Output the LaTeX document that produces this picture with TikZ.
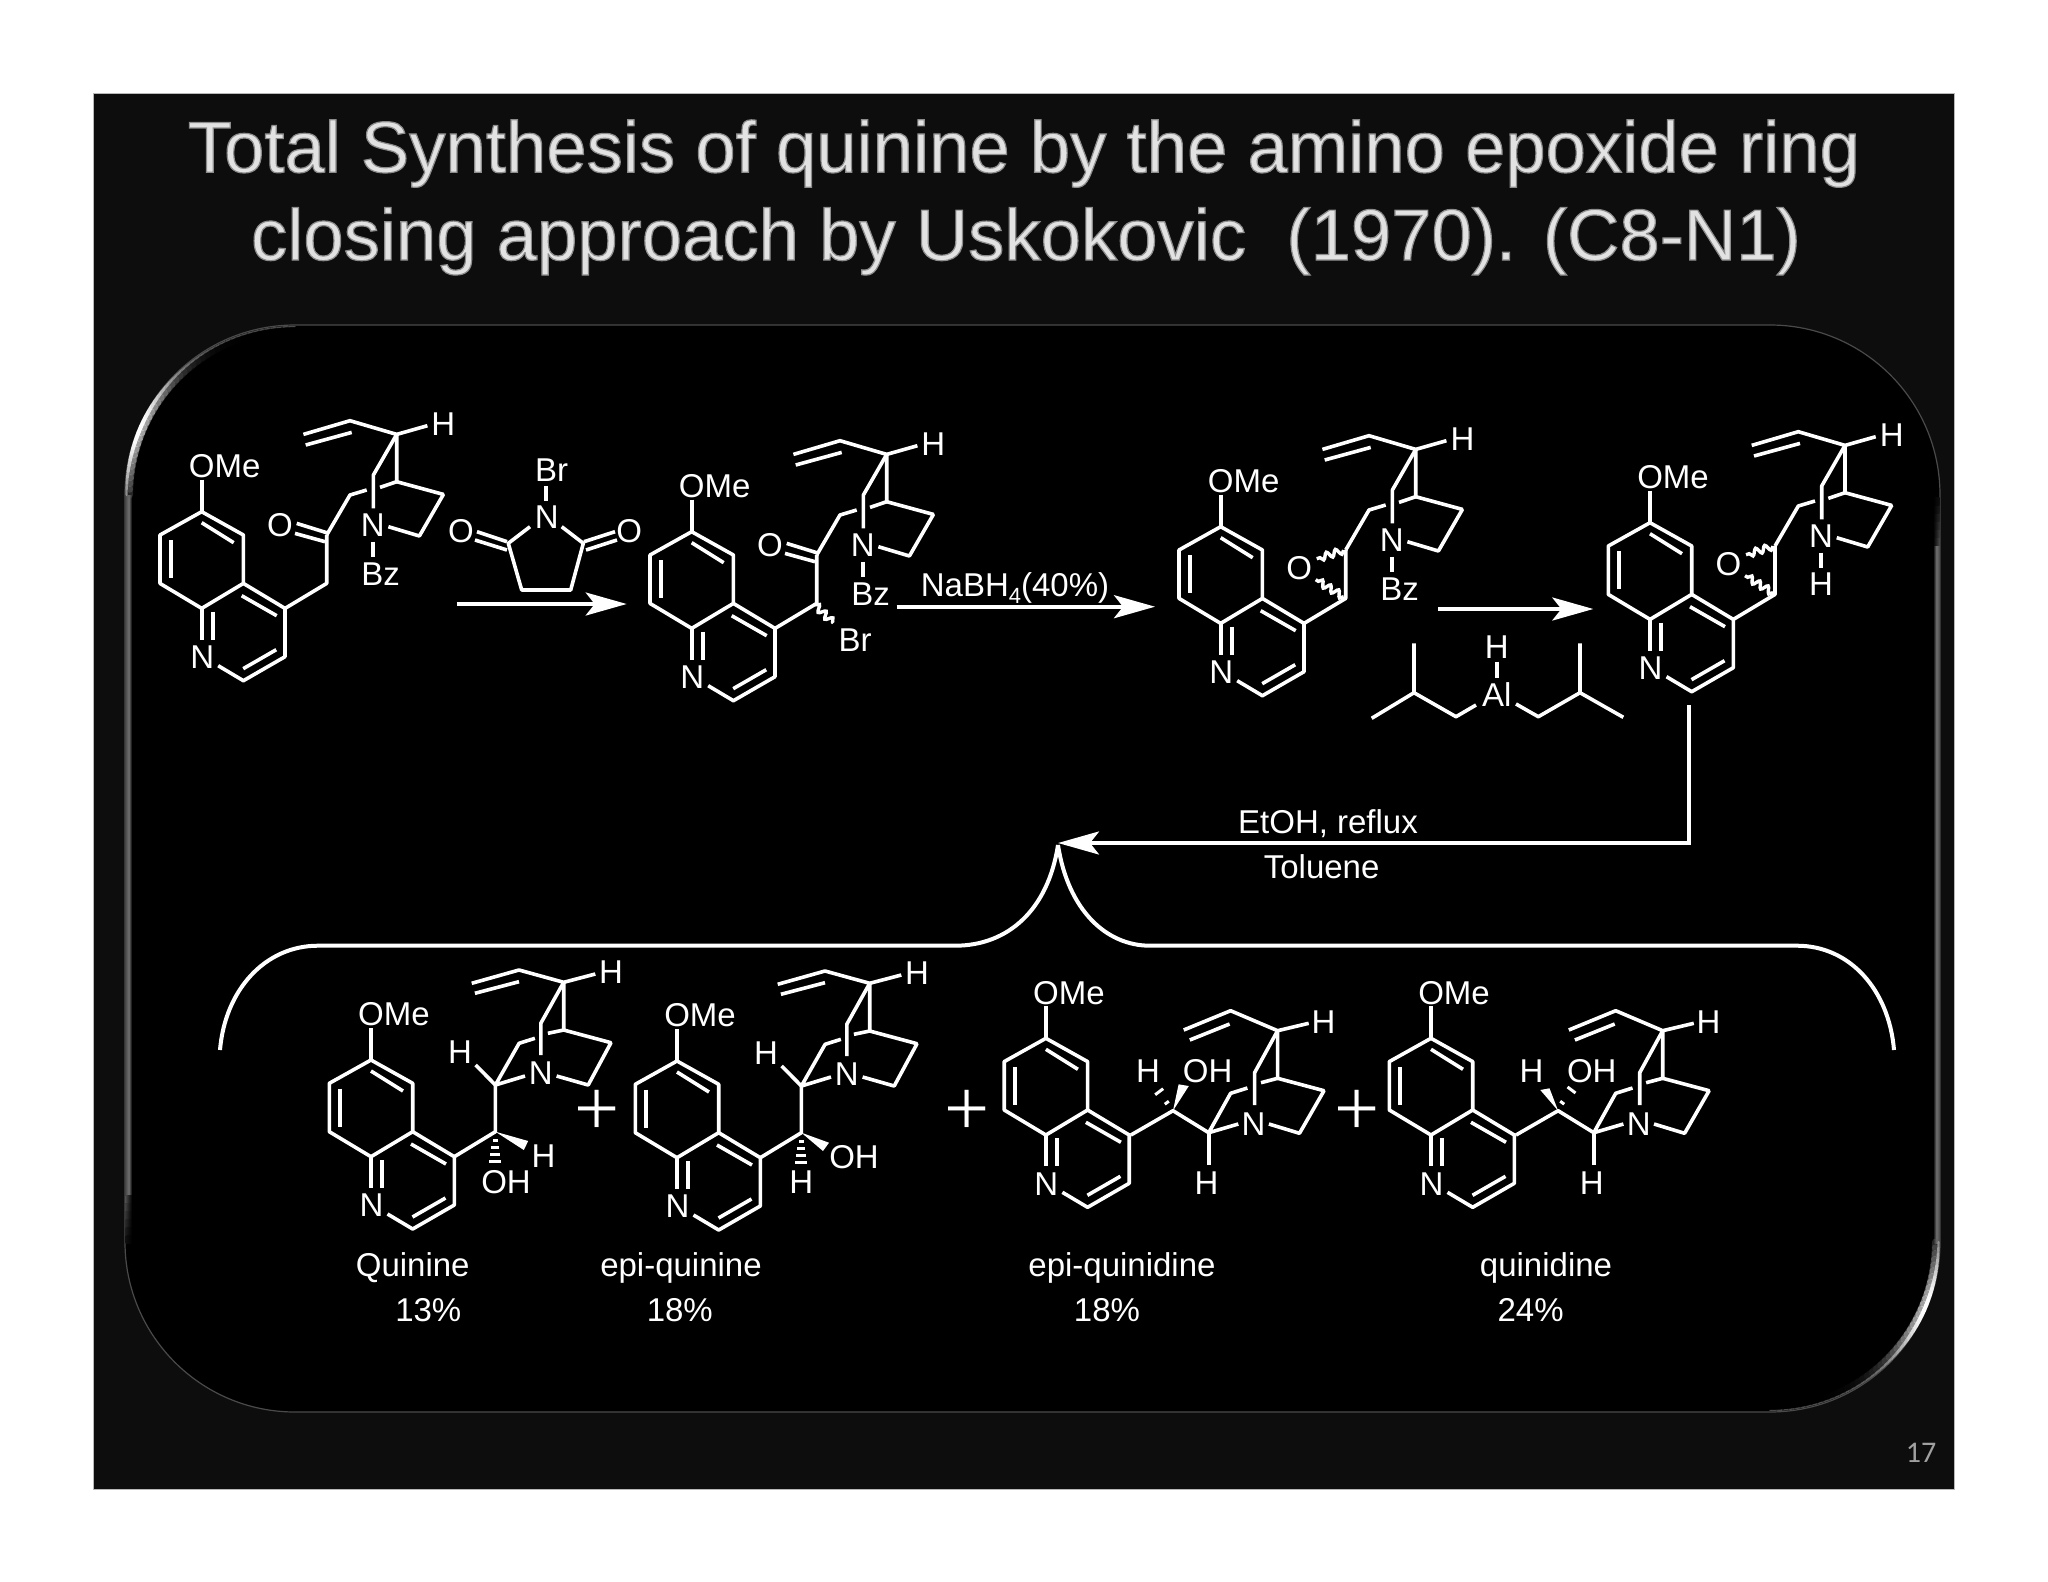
\documentclass[tikz,border=0pt]{standalone}
\usepackage{fontspec}
\setmainfont{Liberation Sans}
\newfontfamily\plusfont{Liberation Serif}
\newfontfamily\numfont{Carlito}
\usetikzlibrary{arrows.meta,decorations.pathmorphing}
\definecolor{slidebg}{HTML}{0D0D0D}
\definecolor{rimbase}{HTML}{4A4A4A}
\definecolor{rimmid}{HTML}{707070}
\definecolor{titlefill}{HTML}{E2E2E2}
\definecolor{numgray}{HTML}{A0A0A0}
\definecolor{pageedge}{HTML}{B8B8B8}
\newcommand{\chemfont}{\fontsize{33}{35}\selectfont}
\newcommand{\bigfont}{\fontsize{72.5}{78}\selectfont}
\tikzset{
  x=1pt,y=-1pt,
  bond/.style={draw=white,line width=3.6pt,line join=bevel},
  wavy/.style={draw=white,line width=3.4pt,decorate,decoration={snake,segment length=9.5pt,amplitude=3.3pt}},
  hash/.style={draw=white,line width=3pt},
  lab/.style={inner sep=0pt,outer sep=0pt,text=white,font=\chemfont,text height=23.6pt,text depth=0pt},
  plain/.style={inner sep=0pt,outer sep=0pt,text=white,font=\chemfont,text height=23.6pt,text depth=0pt},
  plussign/.style={inner sep=0pt,outer sep=0pt,text=white,font=\plusfont\fontsize{80}{80}\selectfont},
  rxn/.style={draw=white,line width=3.7pt,-{Stealth[length=41pt,width=23pt,inset=9pt]}},
  titletext/.style={inner sep=0pt,outer sep=0pt,anchor=base,font=\bigfont},
}
% quinoline with methoxy: origin at the ring carbon that carries OMe
\newcommand{\quinoline}[1]{%
  \draw[bond] (0,-32) -- (0,0);
  \draw[bond] (0,0) -- (41.7,23.3) -- (41.7,71.7) -- (0,96.7) -- (-41.7,71.7) -- (-41.7,23.3) -- cycle;
  \draw[bond] (0,11) -- (32,31);
  \draw[bond] (-31,28.5) -- (-31,66.5);
  \draw[bond] (41.7,71.7) -- (83.3,96.7) -- (83.3,145) -- (41.7,169) -- (16.5,154);
  \draw[bond] (0,96.7) -- (0,128);
  \draw[bond] (11,100) -- (11,128);
  \draw[bond] (40,84) -- (75,104);
  \draw[bond] (41.5,157) -- (74.5,138);
  \node[lab] (#1-ome) at (23,-46) {OMe};
  \node[lab] (#1-qn) at (0.5,145) {N};
}
% upper-row quinuclidine fragment, same origin
\newcommand{\topcage}[1]{%
  \draw[bond] (101.7,-77.3) -- (148.3,-91) -- (195,-77.3) -- (225.7,-86);
  \draw[bond] (104,-66.7) -- (150,-79.3);
  \draw[bond] (195,-77.3) -- (171.7,-36.7) -- (171.7,-3.3);
  \draw[bond] (195,-77.3) -- (195,-30) -- (241.7,-17.3) -- (217.7,24.3) -- (186.7,15);
  \draw[bond] (195,-30) -- (178.3,-24.3);
  \draw[bond] (165,-21.7) -- (148.3,-16.7) -- (125,23.3);
  \draw[bond] (171,30) -- (171,45);
  \node[lab] (#1-h) at (241.7,-88.3) {H};
  \node[lab] (#1-n) at (171,13.3) {N};
}
\newcommand{\ketone}[1]{%
  \draw[bond] (95,11.7) -- (125,21);
  \draw[bond] (93.3,21.7) -- (123.3,30);
  \draw[bond] (125,23.3) -- (125,71.7) -- (83.3,96.7);
  \node[lab] (#1-o) at (78.3,13.3) {O};
  \node[lab] (#1-bz) at (179,62.3) {Bz};
}
\newcommand{\epoxide}[1]{%
  \draw[bond] (125,23.3) -- (125,71.7) -- (83.3,96.7);
  \draw[wavy] (123,23.5) -- (96,32);
  \draw[wavy] (123,70) -- (95,53);
  \node[lab] (#1-o) at (78.5,41) {O};
}
% lower-row cage A (quinine / epi-quinine)
\newcommand{\cageA}[1]{%
  \draw[bond] (100.7,-76.7) -- (148,-90) -- (192.7,-77.7) -- (224.3,-86);
  \draw[bond] (103.9,-66.7) -- (148,-78.3);
  \draw[bond] (192.7,-77.7) -- (169.8,-36.7) -- (169.8,-5);
  \draw[bond] (192.7,-77.7) -- (192.7,-30) -- (240,-17.3) -- (217.2,25) -- (185.6,16);
  \draw[bond] (192.7,-30) -- (176.9,-26.7);
  \draw[bond] (163.9,-21.7) -- (148.1,-16.7) -- (124.4,25) -- (154,16);
  \draw[bond] (124.4,25) -- (104.7,5);
  \draw[bond] (124.4,25) -- (124.4,71.7) -- (83.3,96.7);
  \draw[hash] (122,80) -- (126.8,80);
  \draw[hash] (120.4,87) -- (128.4,87);
  \draw[hash] (119.4,94) -- (129.4,94);
  \draw[hash] (118.4,101) -- (130.4,101);
  \node[lab] (#1-h) at (240,-88.3) {H};
  \node[lab] (#1-n) at (169.8,13) {N};
  \node[lab] (#1-hc) at (89,-8.3) {H};
}
% lower-row cage B (epi-quinidine / quinidine)
\newcommand{\cageB}[1]{%
  \draw[bond] (137.8,-8.3) -- (184.7,-27.6) -- (231.7,-7.6) -- (262.8,-15);
  \draw[bond] (143.9,1.7) -- (183.7,-14.3);
  \draw[bond] (231.7,-7.6) -- (208.7,34.4) -- (208.7,66.7);
  \draw[bond] (231.7,-7.6) -- (231.7,40) -- (278.1,52.4) -- (253.6,95) -- (223,85.7);
  \draw[bond] (231.7,40) -- (215.1,44.4);
  \draw[bond] (201.5,49.7) -- (184.7,55) -- (162.8,94.4) -- (192.4,85.7);
  \draw[bond] (162.8,94.4) -- (162.8,126.7);
  \draw[bond] (85,96.7) -- (127.1,72.4) -- (162.8,94.4);
  \node[lab] (#1-h) at (277.6,-16.6) {H};
  \node[lab] (#1-n) at (207.7,85) {N};
  \node[lab] (#1-hc) at (160.7,144.7) {H};
}
\begin{document}
\begin{tikzpicture}
\useasboundingbox (0,0) rectangle (2048,1582);
\fill[white] (0,0) rectangle (2048,1582);
% slide
\draw[pageedge,line width=1pt,fill=slidebg] (93,93) rectangle (1954,1489);
% title
\node[titletext] (title1) at (1024,172.3) {\color{titlefill}\special{pdf:code 2 Tr 1.2 w 0.55 0.55 0.55 RG}Total Synthesis of quinine by the amino epoxide ring\special{pdf:code 0 Tr}};
\node[titletext] (title2) at (1026,260) {\color{titlefill}\special{pdf:code 2 Tr 1.2 w 0.55 0.55 0.55 RG}closing approach by Uskokovic\ \ (1970). (C8-N1)\special{pdf:code 0 Tr}};
% panel
\draw[rimbase,line width=1.2pt,fill=black,rounded corners=170pt] (125,325) rectangle (1940,1412);
% side strips, fading at the far end
\shade[left color=rimbase,right color=black,middle color=rimmid] (125.5,495) rectangle (132,1195);
\shade[left color=black,right color=rimbase,middle color=rimmid] (1933,545) rectangle (1939.5,1243);
\foreach \k in {0,...,5}{
  \pgfmathsetmacro\f{100-16*\k}
  \shade[left color=rimbase!\f!black,middle color=rimmid!\f!black,right color=black]
    ({125.5},{1195+8*\k}) rectangle ({132},{1203+8*\k});
  \shade[left color=black,middle color=rimmid!\f!black,right color=rimbase!\f!black]
    ({1933},{545-8*\k-8}) rectangle ({1939.5},{545-8*\k});
}
% bright arcs of the rim: thin segments whose colour follows the angle
\foreach \a in {0,2,...,88}{
  \pgfmathsetmacro\nx{\a+2}
  \pgfmathsetmacro\q{(\a-22)/22}
  \pgfmathsetmacro\p{100*exp(-(\q)*(\q))}
  \pgfmathsetmacro\w{1.3+2.7*\p/100}
  \draw[white!\p!black,opacity=.4,line width=7pt,line cap=round]
    ({295-165.5*cos(\a)},{495-165.5*sin(\a)}) -- ({295-165.5*cos(\nx)},{495-165.5*sin(\nx)});
  \draw[white!\p!rimbase,line width=\w pt,line cap=round]
    ({295-168.5*cos(\a)},{495-168.5*sin(\a)}) -- ({295-168.5*cos(\nx)},{495-168.5*sin(\nx)});
  \draw[white!\p!black,opacity=.4,line width=7pt,line cap=round]
    ({1770+165.5*cos(\a)},{1242+165.5*sin(\a)}) -- ({1770+165.5*cos(\nx)},{1242+165.5*sin(\nx)});
  \draw[white!\p!rimbase,line width=\w pt,line cap=round]
    ({1770+168.5*cos(\a)},{1242+168.5*sin(\a)}) -- ({1770+168.5*cos(\nx)},{1242+168.5*sin(\nx)});
}
\node[inner sep=0pt,text=numgray,font=\numfont\fontsize{30}{30}\selectfont] (pageno) at (1921,1453) {17};

% --- compound 1
\begin{scope}[shift={(201.7,511.7)}]
  \quinoline{m1}\topcage{m1}\ketone{m1}
\end{scope}
% NBS
\draw[bond] (546,486) -- (546,500.7);
\draw[bond] (561.7,526.7) -- (583.3,543.3) -- (570.7,590) -- (521.7,590) -- (508.3,543.3) -- (530,526.7);
\draw[bond] (584,541.7) -- (615,531.7);
\draw[bond] (586,550) -- (617,540);
\draw[bond] (477,531.7) -- (507,541.7);
\draw[bond] (475,540) -- (507,550);
\node[lab] (nbs-br) at (551.7,470) {Br};
\node[lab] (nbs-n) at (546.7,516.7) {N};
\node[lab] (nbs-ol) at (461,530.7) {O};
\node[lab] (nbs-or) at (629.3,530.7) {O};
% --- compound 2
\begin{scope}[shift={(691.7,531.7)}]
  \quinoline{m2}\topcage{m2}\ketone{m2}
  \draw[wavy] (123.3,73) -- (141.6,91.3);
  \node[lab] (m2-br) at (163.3,107.6) {Br};
\end{scope}
% --- compound 3
\begin{scope}[shift={(1220.7,526.7)}]
  \quinoline{m3}\topcage{m3}\epoxide{m3}
  \node[lab] (m3-bz) at (179,61.7) {Bz};
\end{scope}
% DIBAL
\draw[bond] (1496.7,661.7) -- (1496.7,678.3);
\draw[bond] (1476,705) -- (1456,716.7) -- (1414,692.7) -- (1414,643.3);
\draw[bond] (1414,692.7) -- (1371.7,718.3);
\draw[bond] (1516,704) -- (1538.3,716.7) -- (1580,692.7) -- (1580,643.3);
\draw[bond] (1580,692.7) -- (1623.3,717.3);
\node[lab] (dibal-h) at (1496.7,646.7) {H};
\node[lab] (dibal-al) at (1496.7,695) {Al};
% --- compound 4
\begin{scope}[shift={(1650,522.7)}]
  \quinoline{m4}\topcage{m4}\epoxide{m4}
  \node[lab] (m4-nh) at (171,60.7) {H};
\end{scope}
% reaction arrows
\coordinate (a1s) at (456.7,604); \coordinate (a1e) at (626.7,604);
\coordinate (a2s) at (896.7,606.7); \coordinate (a2e) at (1155,606.7);
\coordinate (a3s) at (1438.3,609); \coordinate (a3e) at (1593.3,609);
\coordinate (a4s) at (1689,705); \coordinate (a4c) at (1689,843); \coordinate (a4e) at (1058,843);
\draw[rxn] (a1s) -- (a1e);
\draw[rxn] (a2s) -- (a2e);
\draw[rxn] (a3s) -- (a3e);
\draw[rxn] (a4s) -- (a4c) -- (a4e);
\node[plain] (naboh) at (1015,585) {NaBH\raisebox{-7pt}{\fontsize{22}{22}\selectfont 4}(40\%)};
\node[plain] (etoh) at (1328,821.5) {EtOH, reflux};
\node[plain] (tol) at (1321.6,867) {Toluene};
% brace
\coordinate (bt) at (1058,845);
\coordinate (bl) at (220,1050);
\coordinate (br) at (1894,1050);
\draw[white,line width=4pt] (bl) .. controls (225,990) and (265,945.7) .. (318,945.7) -- (955,945.7) .. controls (1008,945.7) and (1048,910) .. (bt);
\draw[white,line width=4pt] (bt) .. controls (1068,910) and (1106,945.7) .. (1150,945.7) -- (1797,945.7) .. controls (1850,945.7) and (1889,990) .. (br);
% --- quinine
\begin{scope}[shift={(371,1060)}]
  \quinoline{q1}\cageA{q1}
  \fill[white] (124.4,71.7) -- (157.2,81) -- (152.8,90) -- cycle;
  \node[lab] (q1-h2) at (172.6,95.7) {H};
  \node[lab] (q1-oh) at (135,121.7) {OH};
\end{scope}
% --- epi-quinine
\begin{scope}[shift={(677,1061)}]
  \quinoline{q2}\cageA{q2}
  \fill[white] (124.4,71.7) -- (152,81.7) -- (146,90) -- cycle;
  \node[lab] (q2-oh) at (177,96) {OH};
  \node[lab] (q2-h2) at (124.4,120.7) {H};
\end{scope}
% --- epi-quinidine
\begin{scope}[shift={(1045.9,1038.3)}]
  \quinoline{q3}\cageB{q3}
  \fill[white] (127.1,72.4) -- (132.7,46) -- (142.9,47.7) -- cycle;
  \draw[hash] (118.9,65.9) -- (122.9,62.9);
  \draw[hash] (109.3,56.4) -- (117.3,50.4);
  \node[lab] (q3-oh) at (161.8,32.4) {OH};
  \node[lab] (q3-h2) at (102.1,32.4) {H};
\end{scope}
% --- quinidine
\begin{scope}[shift={(1431,1038.3)}]
  \quinoline{q4}\cageB{q4}
  \fill[white] (127.1,72.4) -- (109.3,51.7) -- (118.5,50) -- cycle;
  \draw[hash] (129.2,62.9) -- (133.2,65.9);
  \draw[hash] (136.5,48.7) -- (144.5,54.7);
  \node[lab] (q4-oh) at (160.8,32.4) {OH};
  \node[lab] (q4-h2) at (100.6,32.4) {H};
\end{scope}
% plus signs
\node[plussign] (p1) at (597,1113) {+};
\node[plussign] (p2) at (966.8,1113) {+};
\node[plussign] (p3) at (1356.6,1113) {+};
% names and yields
\node[plain] (n1) at (412.7,1265) {Quinine};
\node[plain] (y1) at (428.3,1310) {13\%};
\node[plain] (n2) at (681,1265) {epi-quinine};
\node[plain] (y2) at (679.8,1310) {18\%};
\node[plain] (n3) at (1122,1265) {epi-quinidine};
\node[plain] (y3) at (1107,1310) {18\%};
\node[plain] (n4) at (1546,1265) {quinidine};
\node[plain] (y4) at (1530.6,1310) {24\%};
\end{tikzpicture}
\end{document}
